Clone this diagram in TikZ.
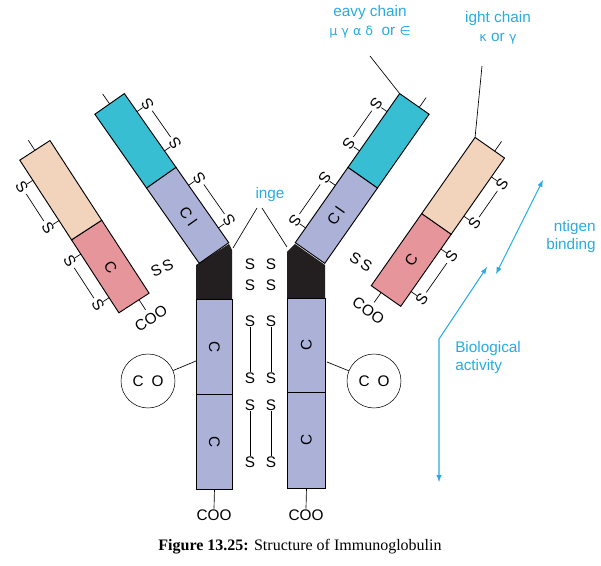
\documentclass[tikz,border=0pt]{standalone}
\usepackage{fontspec}
\setmainfont{Liberation Sans}
\newfontfamily\capfont{Liberation Serif}
\newfontfamily\symfont{DejaVu Sans}
\definecolor{igteal}{RGB}{56,190,210}
\definecolor{igblue}{RGB}{172,178,215}
\definecolor{igpeach}{RGB}{242,211,188}
\definecolor{igpink}{RGB}{230,150,155}
\definecolor{igblack}{RGB}{35,31,32}
\definecolor{igcyan}{RGB}{41,171,226}
\begin{document}
\begin{tikzpicture}[x=0.75pt,y=-0.75pt,
  seg/.style={draw, line width=0.7pt},
  lbl/.style={font=\fontsize{11.5}{13}\selectfont, inner sep=0.5pt},
  note/.style={font=\fontsize{11.5}{13.5}\selectfont, text=igcyan, align=center, inner sep=0pt},
  thin/.style={line width=0.5pt},
  bio/.style={igcyan, line width=0.8pt, <->, >=latex}]
\useasboundingbox (0,0) rectangle (601,566);

% stems
\fill[igblack] (196,265) -- (229,244) -- (232,250) -- (232,299) -- (196,299) -- cycle;
\fill[igblack] (325,265) -- (295,244) -- (287,252) -- (287,298) -- (325,298) -- cycle;
\node[seg, fill=igblue, minimum width=36*0.75pt, minimum height=95*0.75pt, anchor=north west, inner sep=0] (lc2) at (196,299) {};
\node[seg, fill=igblue, minimum width=36*0.75pt, minimum height=95*0.75pt, anchor=north west, inner sep=0] (lc3) at (196,394) {};
\node[seg, fill=igblue, minimum width=38*0.75pt, minimum height=94*0.75pt, anchor=north west, inner sep=0] (rc2) at (287,298) {};
\node[seg, fill=igblue, minimum width=38*0.75pt, minimum height=96*0.75pt, anchor=north west, inner sep=0] (rc3) at (287,392) {};
\node[lbl, rotate=-90] at (lc2) {C};
\node[lbl, rotate=-90] at (lc3) {C};
\node[lbl, rotate=90] at (rc2) {C};
\node[lbl, rotate=90] at (rc3) {C};
\node[lbl] (lcoo) at (214,515) {COO};
\node[lbl] (rcoo) at (306,515) {COO};
\draw[thin] (lc3.south) -- (lcoo.north);
\draw[thin] (rc3.south) -- (rcoo.north);

% left heavy arm
\begin{scope}[shift={(214,253)}, rotate=35]
  \draw[seg, fill=igblue] (-18,0) rectangle (18,-92);
  \draw[seg, fill=igteal] (-18,-92) rectangle (18,-182);
  \node[lbl, transform shape, rotate=-90] at (0,-45) {C l};
  \draw[thin] (0,-182) -- (0,-194);
  \foreach \a/\b in {-18/-70,-112/-160} {
    \node[lbl, transform shape, rotate=90] (s\a) at (31,\a) {S};
    \node[lbl, transform shape, rotate=90] (t\b) at (31,\b) {S};
    \draw[thin] (18,\a) -- (25,\a) (18,\b) -- (25,\b);
    \draw[thin] (31,\a-8) -- (31,\b+8);
  }
\end{scope}

% right heavy arm
\begin{scope}[shift={(310,253)}, rotate=-35]
  \draw[seg, fill=igblue] (-18,0) rectangle (18,-92);
  \draw[seg, fill=igteal] (-18,-92) rectangle (18,-182);
  \coordinate (htip) at (-18,-182);
  \node[lbl, transform shape, rotate=90] at (0,-45) {C l};
  \draw[thin] (6,-182) -- (6,-194);
  \foreach \a/\b in {-18/-70,-112/-160} {
    \node[lbl, transform shape, rotate=-90] (s\a) at (-31,\a) {S};
    \node[lbl, transform shape, rotate=-90] (t\b) at (-31,\b) {S};
    \draw[thin] (-18,\a) -- (-25,\a) (-18,\b) -- (-25,\b);
    \draw[thin] (-31,\a-8) -- (-31,\b+8);
  }
\end{scope}

% left light chain
\begin{scope}[shift={(134,303)}, rotate=33]
  \draw[seg, fill=igpink] (-18,0) rectangle (18,-87);
  \draw[seg, fill=igpeach] (-18,-87) rectangle (18,-182);
  \node[lbl, transform shape, rotate=-90] at (0,-43) {C};
  \draw[thin] (0,-182) -- (0,-194);
  \draw[thin] (6,0) -- (6,12);
  \node[lbl, transform shape] at (6,22) {COO};
  \foreach \a/\b in {-18/-70,-110/-158} {
    \node[lbl, transform shape, rotate=-90] (s\a) at (-31,\a) {S};
    \node[lbl, transform shape, rotate=-90] (t\b) at (-31,\b) {S};
    \draw[thin] (-18,\a) -- (-25,\a) (-18,\b) -- (-25,\b);
    \draw[thin] (-31,\a-8) -- (-31,\b+8);
  }
\end{scope}

% right light chain
\begin{scope}[shift={(386,296)}, rotate=-35]
  \draw[seg, fill=igpink] (-18,0) rectangle (18,-88);
  \draw[seg, fill=igpeach] (-18,-88) rectangle (18,-181);
  \coordinate (ltip) at (-18,-181);
  \node[lbl, transform shape, rotate=90] at (0,-44) {C};
  \draw[thin] (6,-181) -- (6,-193);
  \draw[thin] (-6,0) -- (-6,12);
  \node[lbl, transform shape] at (-6,22) {COO};
  \foreach \a/\b in {-18/-70,-110/-158} {
    \node[lbl, transform shape, rotate=90] (s\a) at (31,\a) {S};
    \node[lbl, transform shape, rotate=90] (t\b) at (31,\b) {S};
    \draw[thin] (18,\a) -- (25,\a) (18,\b) -- (25,\b);
    \draw[thin] (31,\a-8) -- (31,\b+8);
  }
\end{scope}

\node[lbl, rotate=25] (lss) at (162,268) {S\,S};
\node[lbl, rotate=-30] (rss) at (361,262) {S\,S};

% hinge bonds
\foreach \x/\n in {250/a,271/b} {
  \node[lbl] (\n1) at (\x,264) {S};
  \node[lbl] (\n2) at (\x,285) {S};
  \node[lbl] (\n3) at (\x,321) {S};
  \node[lbl] (\n4) at (\x,378) {S};
  \node[lbl] (\n5) at (\x,405) {S};
  \node[lbl] (\n6) at (\x,462) {S};
  \draw[thin] (\n3) -- (\n4);
  \draw[thin] (\n5) -- (\n6);
}
\node[note] (hinge) at (270,195) {inge};
\coordinate (hl) at (233,248);
\coordinate (hr) at (287,247);
\draw[thin] (hl) -- (257,208) (262,208) -- (hr);

% CHO circles
\node[lbl, draw, circle, minimum size=54*0.75pt] (lcho) at (148,381) {C\hspace{6pt}O};
\node[lbl, draw, circle, minimum size=54*0.75pt] (rcho) at (374,381) {C\hspace{6pt}O};
\draw[thin] (lcho) -- (196,361);
\draw[thin] (rcho) -- (327,362);

% labels
\node[note] (hvy) at (370,22) {eavy chain\\[1pt]{\symfont\fontsize{9.5}{11}\selectfont μ γ α δ}\ \ or {\symfont\fontsize{9.5}{11}\selectfont ∈}};
\node[note] (lgt) at (498,28) {ight chain\\[1pt]{\symfont\fontsize{9.5}{11}\selectfont κ} or {\symfont\fontsize{9.5}{11}\selectfont γ}};
\draw[thin] (htip) -- (370,56);
\draw[thin] (ltip) -- (482,66);
\node[note, align=right, anchor=east] (ag) at (596,237) {ntigen\\binding};
\node[note, align=left, anchor=west] (ba) at (455,358) {Biological\\activity};
\coordinate (ag1) at (496,274);
\coordinate (ag2) at (543,180);
\draw[bio] (ag1) -- (ag2);
\coordinate (ba1) at (487,267);
\coordinate (ba2) at (439,482);
\draw[bio] (ba1) -- (439,339) -- (ba2);

\node[font=\capfont\fontsize{12}{14}\selectfont] (cap) at (300,547) {\textbf{Figure 13.25:} Structure of Immunoglobulin};
\end{tikzpicture}
\end{document}
